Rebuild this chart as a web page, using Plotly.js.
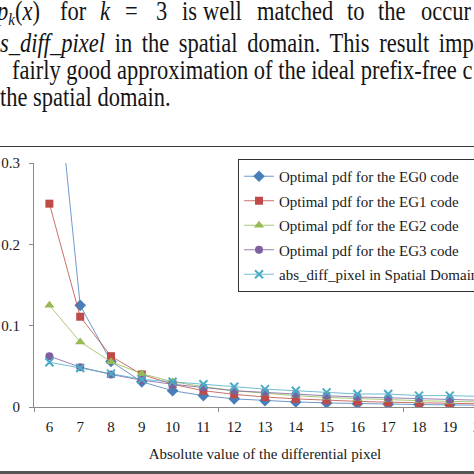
<!DOCTYPE html>
<html>
<head>
<meta charset="utf-8">
<script src="https://cdn.plot.ly/plotly-3.0.1.min.js"></script>
<style>
  html, body { margin: 0; padding: 0; width: 474px; height: 474px; overflow: hidden; background: #fff; }
  #chart { position: absolute; left: 0; top: 0; width: 520px; height: 474px; }
  .line { position: absolute; left: 0; width: 600px; height: 22px; transform-origin: 0 0; transform: scaleY(1.18); }
  .txt { position: absolute; top: 0; white-space: nowrap; font-family: "Liberation Serif", "Times New Roman", serif;
         font-size: 22.5px; line-height: 0.9; color: #141414; }
  .txt sub { font-size: 15px; line-height: 0; vertical-align: -4px; }
  #rule { position: absolute; left: 0; top: 146px; width: 474px; height: 1px; background: #3a3a3a; }
  #foot { position: absolute; left: 0; top: 471px; width: 474px; height: 3px; background: #555; }
</style>
</head>
<body>
<div id="chart"></div>
<div class="line" style="top:0px;">
  <span class="txt" style="left:-3px;"><i>p</i><sub><i>k</i></sub>(<i>x</i>)</span>
  <span class="txt" style="left:60px;">for</span>
  <span class="txt" style="left:100px;"><i>k</i></span>
  <span class="txt" style="left:125px;">=</span>
  <span class="txt" style="left:156px;">3</span>
  <span class="txt" style="left:182px;">is</span>
  <span class="txt" style="left:203px;">well</span>
  <span class="txt" style="left:257px;">matched</span>
  <span class="txt" style="left:347px;">to</span>
  <span class="txt" style="left:378px;">the</span>
  <span class="txt" style="left:421px;">occur</span>
</div>
<div class="line" style="top:32px;">
  <span class="txt" style="left:0px; word-spacing:4px;"><i>s_diff_pixel</i> in the spatial domain. This result imp</span>
</div>
<div class="line" style="top:59px;">
  <span class="txt" style="left:12px;">fairly good approximation of the ideal prefix-free c</span>
</div>
<div class="line" style="top:86px;">
  <span class="txt" style="left:0px;">the spatial domain.</span>
</div>
<div id="rule"></div>
<div id="foot"></div>
<script>
// Absolute value of the differential pixel (category axis)
const categories = [6, 7, 8, 9, 10, 11, 12, 13, 14, 15, 16, 17, 18, 19, 20];
const tickLabels = ['6', '7', '8', '9', '10', '11', '12', '13', '14', '15', '16', '17', '18', '19', '20'];

// Optimal pdfs of the Exp-Golomb codes and the measured distribution
const pdfEG0 = [0.5, 0.125, 0.056, 0.031, 0.020, 0.014, 0.010, 0.0078, 0.0062, 0.0050, 0.0041, 0.0035, 0.0030, 0.0026, 0.0022];
const pdfEG1 = [0.25, 0.111, 0.0625, 0.040, 0.028, 0.020, 0.0156, 0.0123, 0.010, 0.0083, 0.0069, 0.0059, 0.0051, 0.0044, 0.0039];
const pdfEG2 = [0.125, 0.080, 0.0556, 0.041, 0.031, 0.025, 0.020, 0.0165, 0.0139, 0.0118, 0.0102, 0.0089, 0.0078, 0.0069, 0.0062];
const pdfEG3 = [0.0625, 0.049, 0.040, 0.033, 0.028, 0.024, 0.020, 0.018, 0.0156, 0.0138, 0.0123, 0.0111, 0.010, 0.0091, 0.0083];
const absDiffPixel = [0.055, 0.048, 0.041, 0.034, 0.031, 0.028, 0.025, 0.022, 0.020, 0.018, 0.016, 0.016, 0.014, 0.014, 0.013];

const yTicks = [0, 0.1, 0.2, 0.3];
const yTickLabels = ['0', '0.1', '0.2', '0.3'];
// tick marks on the category axis fall between every sixth category
const groupTicks = [5.5, 11.5, 17.5];

function series(name, group, values, color, symbol, size, xaxis, extra) {
  const marker = Object.assign({ color: color, symbol: symbol, size: size, line: { width: 0 } }, extra || {});
  return {
    type: 'scatter', mode: 'lines+markers', name: name, legendgroup: group,
    x: categories, y: values, xaxis: xaxis, yaxis: 'y',
    line: { color: color, width: 0.8 },
    marker: marker,
    cliponaxis: true
  };
}

const traces = [
  series('Optimal pdf for the EG0 code', 'eg0', pdfEG0, '#4a7ebb', 'diamond', 9, 'x'),
  series('Optimal pdf for the EG1 code', 'eg1', pdfEG1, '#be4b48', 'square', 8, 'x'),
  series('Optimal pdf for the EG2 code', 'eg2', pdfEG2, '#98b954', 'triangle-up', 9, 'x'),
  series('Optimal pdf for the EG3 code', 'eg3', pdfEG3, '#7d60a0', 'circle', 8, 'x'),
  // drawn on the overlaid axis that carries the group tick marks
  series('abs_diff_pixel in Spatial Domain', 'abs', absDiffPixel, '#4bacc6', 'x-thin', 8, 'x2',
         { line: { color: '#4bacc6', width: 2 } })
];

const serif = '"Liberation Serif", "Times New Roman", serif';
const axisGray = '#8a8a8a';

const layout = {
  width: 520, height: 474,
  margin: { l: 34, r: 24, t: 163, b: 67, pad: 0 },
  paper_bgcolor: 'rgba(0,0,0,0)', plot_bgcolor: '#fff',
  font: { family: serif, size: 15, color: '#1a1a1a' },
  xaxis: {
    range: [5.5, 20.5], tickmode: 'array', tickvals: categories, ticktext: tickLabels,
    ticks: '', showline: true, linecolor: axisGray, linewidth: 1,
    showgrid: false, zeroline: false, ticklabelstandoff: 6,
    tickfont: { family: serif, size: 15, color: '#1a1a1a' },
    title: { text: 'Absolute value of the differential pixel', standoff: 14,
             font: { family: serif, size: 15, color: '#1a1a1a' } }
  },
  xaxis2: {
    overlaying: 'x', matches: 'x', anchor: 'y', side: 'bottom',
    tickmode: 'array', tickvals: groupTicks, ticks: 'outside', ticklen: 4,
    tickcolor: axisGray, tickwidth: 1, showticklabels: false,
    showline: false, showgrid: false, zeroline: false
  },
  yaxis: {
    range: [0, 0.3], tickmode: 'array', tickvals: yTicks, ticktext: yTickLabels,
    ticks: 'outside', ticklen: 4, tickcolor: axisGray,
    showline: true, linecolor: axisGray, linewidth: 1,
    showgrid: false, zeroline: false, ticklabelstandoff: 6,
    tickfont: { family: serif, size: 15, color: '#1a1a1a' }
  },
  showlegend: true,
  legend: {
    x: 0.4416, y: 1.0164, xanchor: 'left', yanchor: 'top',
    bgcolor: '#fff', bordercolor: '#333', borderwidth: 1,
    font: { family: serif, size: 15, color: '#1a1a1a' },
    traceorder: 'grouped', tracegroupgap: 2
  }
};

Plotly.newPlot('chart', traces, layout, { displayModeBar: false, staticPlot: true });
</script>
</body>
</html>
